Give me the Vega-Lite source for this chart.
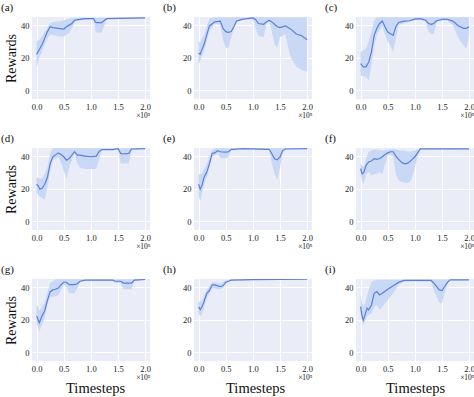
{
"$schema":"https://vega.github.io/schema/vega-lite/v6.json",
"padding":{"left":1,"top":2,"right":2,"bottom":0},
"datasets":{"runs":[
{"p":"a","t":0,"m":22,"lo":14,"hi":30},{"p":"a","t":5000,"m":25,"lo":20,"hi":31},{"p":"a","t":10000,"m":28,"lo":24,"hi":33},{"p":"a","t":15000,"m":32,"lo":28,"hi":36},{"p":"a","t":20000,"m":36,"lo":32,"hi":38.5},{"p":"a","t":25000,"m":39,"lo":34,"hi":41},{"p":"a","t":30000,"m":38.5,"lo":34,"hi":42},{"p":"a","t":40000,"m":38,"lo":33,"hi":42},{"p":"a","t":50000,"m":37.5,"lo":33,"hi":43},{"p":"a","t":55000,"m":39,"lo":34,"hi":43.5},{"p":"a","t":60000,"m":40,"lo":35,"hi":44},{"p":"a","t":65000,"m":41,"lo":38,"hi":44.3},{"p":"a","t":70000,"m":43,"lo":42,"hi":44.5},{"p":"a","t":80000,"m":43.5,"lo":43,"hi":44.5},{"p":"a","t":90000,"m":44,"lo":43.5,"hi":44.5},{"p":"a","t":105000,"m":44,"lo":43.5,"hi":44.5},{"p":"a","t":108000,"m":42,"lo":37,"hi":44.5},{"p":"a","t":110000,"m":41.5,"lo":35.5,"hi":44.5},{"p":"a","t":120000,"m":41.5,"lo":35.5,"hi":44.5},{"p":"a","t":125000,"m":43,"lo":40,"hi":44.5},{"p":"a","t":130000,"m":44,"lo":44,"hi":44.5},{"p":"a","t":150000,"m":44.2,"lo":44,"hi":44.5},{"p":"a","t":200000,"m":44.5,"lo":44.3,"hi":44.7},
{"p":"b","t":0,"m":22.7,"lo":15.6,"hi":30},{"p":"b","t":3000,"m":22,"lo":18,"hi":29},{"p":"b","t":5000,"m":24,"lo":20,"hi":31},{"p":"b","t":10000,"m":28,"lo":24,"hi":34},{"p":"b","t":15000,"m":34,"lo":30,"hi":39},{"p":"b","t":20000,"m":39.5,"lo":36.5,"hi":44},{"p":"b","t":30000,"m":42,"lo":41,"hi":44.8},{"p":"b","t":40000,"m":42.5,"lo":40,"hi":44.8},{"p":"b","t":45000,"m":38,"lo":31,"hi":44.8},{"p":"b","t":50000,"m":36,"lo":26,"hi":44.8},{"p":"b","t":55000,"m":35.5,"lo":26,"hi":44.8},{"p":"b","t":60000,"m":36,"lo":32,"hi":44.8},{"p":"b","t":65000,"m":39,"lo":38,"hi":44.8},{"p":"b","t":70000,"m":42.5,"lo":42.5,"hi":44.8},{"p":"b","t":80000,"m":43.5,"lo":43.5,"hi":44.8},{"p":"b","t":90000,"m":44,"lo":44,"hi":44.8},{"p":"b","t":100000,"m":44.4,"lo":43.5,"hi":44.8},{"p":"b","t":105000,"m":43.5,"lo":38,"hi":44.8},{"p":"b","t":110000,"m":41,"lo":33.5,"hi":44.8},{"p":"b","t":120000,"m":40.5,"lo":32.5,"hi":44.8},{"p":"b","t":125000,"m":42,"lo":40.5,"hi":44.8},{"p":"b","t":130000,"m":43,"lo":42.5,"hi":44.8},{"p":"b","t":135000,"m":42,"lo":36,"hi":44.8},{"p":"b","t":140000,"m":40.5,"lo":28,"hi":44.8},{"p":"b","t":145000,"m":39,"lo":26,"hi":44.8},{"p":"b","t":150000,"m":38.5,"lo":32.5,"hi":44.8},{"p":"b","t":160000,"m":39.5,"lo":34.5,"hi":44.8},{"p":"b","t":165000,"m":38.5,"lo":26,"hi":44.8},{"p":"b","t":170000,"m":37.5,"lo":20,"hi":44.8},{"p":"b","t":180000,"m":34.5,"lo":14.5,"hi":44.8},{"p":"b","t":190000,"m":33.5,"lo":12.5,"hi":44.8},{"p":"b","t":200000,"m":31,"lo":11.5,"hi":44.8},
{"p":"c","t":0,"m":16.3,"lo":9,"hi":23.5},{"p":"c","t":5000,"m":14.3,"lo":8.5,"hi":24.5},{"p":"c","t":10000,"m":14.3,"lo":8,"hi":25.5},{"p":"c","t":15000,"m":17.3,"lo":6,"hi":30},{"p":"c","t":20000,"m":23.5,"lo":15,"hi":35.7},{"p":"c","t":25000,"m":33.7,"lo":27.5,"hi":43},{"p":"c","t":30000,"m":38,"lo":33.7,"hi":44.8},{"p":"c","t":35000,"m":41,"lo":37,"hi":44.8},{"p":"c","t":40000,"m":42.5,"lo":40,"hi":44.8},{"p":"c","t":45000,"m":39,"lo":34,"hi":44.8},{"p":"c","t":50000,"m":35.7,"lo":30,"hi":44.8},{"p":"c","t":55000,"m":34.7,"lo":27,"hi":44.8},{"p":"c","t":60000,"m":33.7,"lo":23.5,"hi":44.8},{"p":"c","t":65000,"m":39,"lo":32,"hi":44.8},{"p":"c","t":70000,"m":41.6,"lo":40,"hi":44.8},{"p":"c","t":80000,"m":42.5,"lo":41,"hi":44.8},{"p":"c","t":90000,"m":42.7,"lo":42,"hi":44.8},{"p":"c","t":100000,"m":43.7,"lo":43,"hi":44.8},{"p":"c","t":110000,"m":44,"lo":43.5,"hi":44.8},{"p":"c","t":120000,"m":43,"lo":42,"hi":44.8},{"p":"c","t":125000,"m":41,"lo":36,"hi":44.8},{"p":"c","t":130000,"m":40.5,"lo":34.7,"hi":44.8},{"p":"c","t":135000,"m":41,"lo":34.7,"hi":44.8},{"p":"c","t":140000,"m":42.7,"lo":42,"hi":44.8},{"p":"c","t":150000,"m":43.5,"lo":43,"hi":44.8},{"p":"c","t":160000,"m":43.5,"lo":43,"hi":44.8},{"p":"c","t":170000,"m":42.5,"lo":40,"hi":44.8},{"p":"c","t":180000,"m":39.6,"lo":32,"hi":44.8},{"p":"c","t":190000,"m":38,"lo":27.5,"hi":44.8},{"p":"c","t":195000,"m":38,"lo":25.5,"hi":44.8},{"p":"c","t":200000,"m":39,"lo":33.7,"hi":44.8},
{"p":"d","t":0,"m":22.7,"lo":17.5,"hi":27},{"p":"d","t":3000,"m":21.7,"lo":16,"hi":26.5},{"p":"d","t":6000,"m":19.6,"lo":15,"hi":26},{"p":"d","t":10000,"m":20.2,"lo":14.3,"hi":26},{"p":"d","t":15000,"m":22.7,"lo":13.3,"hi":29},{"p":"d","t":20000,"m":27,"lo":20.6,"hi":33},{"p":"d","t":25000,"m":35.4,"lo":31,"hi":41.7},{"p":"d","t":30000,"m":39.6,"lo":37.5,"hi":44.8},{"p":"d","t":40000,"m":42,"lo":39.6,"hi":44.8},{"p":"d","t":45000,"m":41,"lo":36,"hi":44.8},{"p":"d","t":50000,"m":39.6,"lo":31,"hi":44.8},{"p":"d","t":55000,"m":37.5,"lo":26,"hi":44.8},{"p":"d","t":60000,"m":38.5,"lo":33,"hi":44.8},{"p":"d","t":70000,"m":42.7,"lo":41.7,"hi":44.8},{"p":"d","t":75000,"m":40.6,"lo":35.4,"hi":44.8},{"p":"d","t":80000,"m":40.6,"lo":33,"hi":44.8},{"p":"d","t":90000,"m":40,"lo":32,"hi":44.8},{"p":"d","t":100000,"m":39.6,"lo":32,"hi":44.8},{"p":"d","t":110000,"m":40,"lo":32,"hi":44.8},{"p":"d","t":115000,"m":42.7,"lo":37.5,"hi":44.8},{"p":"d","t":120000,"m":44,"lo":44,"hi":44.8},{"p":"d","t":140000,"m":44,"lo":44,"hi":44.8},{"p":"d","t":150000,"m":44.6,"lo":44.4,"hi":44.8},{"p":"d","t":155000,"m":41.7,"lo":35.4,"hi":44.8},{"p":"d","t":160000,"m":41.3,"lo":35.4,"hi":44.8},{"p":"d","t":170000,"m":41.7,"lo":35.4,"hi":44.8},{"p":"d","t":175000,"m":44.4,"lo":43.6,"hi":44.8},{"p":"d","t":200000,"m":44.6,"lo":44.4,"hi":44.8},
{"p":"e","t":0,"m":22.7,"lo":15.4,"hi":29},{"p":"e","t":3000,"m":19.6,"lo":12.2,"hi":29},{"p":"e","t":6000,"m":21.7,"lo":16.4,"hi":29},{"p":"e","t":10000,"m":27,"lo":22.7,"hi":32},{"p":"e","t":15000,"m":30,"lo":27,"hi":35},{"p":"e","t":20000,"m":35.4,"lo":33,"hi":39.6},{"p":"e","t":25000,"m":41.7,"lo":39.6,"hi":43.6},{"p":"e","t":30000,"m":42,"lo":40.5,"hi":44.8},{"p":"e","t":35000,"m":43.4,"lo":41.7,"hi":44.8},{"p":"e","t":40000,"m":42.7,"lo":39,"hi":44.8},{"p":"e","t":50000,"m":42.5,"lo":38.5,"hi":44.8},{"p":"e","t":55000,"m":42.7,"lo":39.6,"hi":44.8},{"p":"e","t":60000,"m":44,"lo":44,"hi":44.8},{"p":"e","t":80000,"m":44.6,"lo":44.3,"hi":44.8},{"p":"e","t":130000,"m":44.2,"lo":44,"hi":44.8},{"p":"e","t":135000,"m":41.5,"lo":35.4,"hi":44.8},{"p":"e","t":140000,"m":38.3,"lo":29,"hi":44.8},{"p":"e","t":145000,"m":37.7,"lo":25.3,"hi":44.8},{"p":"e","t":150000,"m":39.5,"lo":33,"hi":44.8},{"p":"e","t":155000,"m":43.4,"lo":41.7,"hi":44.8},{"p":"e","t":160000,"m":44.4,"lo":44.2,"hi":44.8},{"p":"e","t":200000,"m":44.6,"lo":44.4,"hi":44.8},
{"p":"f","t":0,"m":32.2,"lo":29,"hi":35.4},{"p":"f","t":3000,"m":29,"lo":24,"hi":34},{"p":"f","t":6000,"m":30,"lo":23,"hi":33.5},{"p":"f","t":10000,"m":34.3,"lo":29,"hi":38.5},{"p":"f","t":15000,"m":36.4,"lo":30,"hi":42.7},{"p":"f","t":20000,"m":37,"lo":28,"hi":43.6},{"p":"f","t":25000,"m":38.5,"lo":29,"hi":44},{"p":"f","t":30000,"m":38,"lo":29,"hi":44},{"p":"f","t":35000,"m":38.5,"lo":30,"hi":43.8},{"p":"f","t":40000,"m":39.6,"lo":29,"hi":43.4},{"p":"f","t":45000,"m":41,"lo":35,"hi":43.8},{"p":"f","t":50000,"m":42,"lo":40.6,"hi":44},{"p":"f","t":55000,"m":42.7,"lo":41,"hi":44.2},{"p":"f","t":60000,"m":42.7,"lo":39.6,"hi":44.4},{"p":"f","t":65000,"m":40,"lo":29,"hi":44},{"p":"f","t":70000,"m":38,"lo":25.3,"hi":43.6},{"p":"f","t":75000,"m":36.4,"lo":24,"hi":43.5},{"p":"f","t":80000,"m":35.4,"lo":23.8,"hi":43.4},{"p":"f","t":85000,"m":35.4,"lo":23.5,"hi":43},{"p":"f","t":90000,"m":36.4,"lo":23.8,"hi":42.7},{"p":"f","t":95000,"m":38,"lo":27,"hi":43},{"p":"f","t":100000,"m":39.6,"lo":33,"hi":43.6},{"p":"f","t":105000,"m":42,"lo":39.6,"hi":44},{"p":"f","t":110000,"m":44.4,"lo":44,"hi":44.6},{"p":"f","t":200000,"m":44.4,"lo":44.2,"hi":44.6},
{"p":"g","t":0,"m":22.3,"lo":18,"hi":29.8},{"p":"g","t":5000,"m":18,"lo":12.8,"hi":25.5},{"p":"g","t":10000,"m":22.3,"lo":17,"hi":27.7},{"p":"g","t":15000,"m":25.5,"lo":21.3,"hi":31},{"p":"g","t":20000,"m":31.9,"lo":29.8,"hi":36.2},{"p":"g","t":25000,"m":37.2,"lo":34,"hi":42.5},{"p":"g","t":30000,"m":38.3,"lo":34,"hi":43.6},{"p":"g","t":35000,"m":38.7,"lo":34.5,"hi":44.8},{"p":"g","t":40000,"m":39.4,"lo":35,"hi":44.8},{"p":"g","t":45000,"m":41.5,"lo":38.3,"hi":44.8},{"p":"g","t":50000,"m":43,"lo":41.5,"hi":44.8},{"p":"g","t":55000,"m":43,"lo":40.4,"hi":44.8},{"p":"g","t":60000,"m":41.5,"lo":36.2,"hi":44.8},{"p":"g","t":70000,"m":41.5,"lo":36.2,"hi":44.8},{"p":"g","t":75000,"m":42.1,"lo":39.4,"hi":44.8},{"p":"g","t":80000,"m":43.6,"lo":43.6,"hi":44.8},{"p":"g","t":90000,"m":44.3,"lo":44,"hi":44.8},{"p":"g","t":140000,"m":44.3,"lo":44,"hi":44.8},{"p":"g","t":145000,"m":43.6,"lo":42.5,"hi":44.8},{"p":"g","t":155000,"m":43.6,"lo":42.5,"hi":44.8},{"p":"g","t":160000,"m":42.5,"lo":38.7,"hi":44.8},{"p":"g","t":175000,"m":42.5,"lo":38.7,"hi":44.8},{"p":"g","t":180000,"m":44.3,"lo":43.6,"hi":44.8},{"p":"g","t":200000,"m":44.7,"lo":44.5,"hi":44.8},
{"p":"h","t":0,"m":27.8,"lo":23.6,"hi":31},{"p":"h","t":3000,"m":26.2,"lo":22,"hi":31},{"p":"h","t":6000,"m":27.8,"lo":23,"hi":32},{"p":"h","t":10000,"m":31,"lo":27,"hi":34},{"p":"h","t":15000,"m":36.2,"lo":33,"hi":38.3},{"p":"h","t":20000,"m":37.9,"lo":36.2,"hi":40.4},{"p":"h","t":25000,"m":41.4,"lo":39.3,"hi":43},{"p":"h","t":30000,"m":41.4,"lo":39.3,"hi":43},{"p":"h","t":35000,"m":40.8,"lo":38.7,"hi":42.5},{"p":"h","t":40000,"m":40.4,"lo":38.7,"hi":42},{"p":"h","t":45000,"m":40.8,"lo":39.3,"hi":43},{"p":"h","t":50000,"m":43,"lo":42,"hi":44.3},{"p":"h","t":55000,"m":43.6,"lo":43.3,"hi":44.5},{"p":"h","t":60000,"m":44.3,"lo":44,"hi":44.6},{"p":"h","t":100000,"m":44.6,"lo":44.4,"hi":44.8},{"p":"h","t":200000,"m":44.9,"lo":44.7,"hi":45},
{"p":"i","t":0,"m":28,"lo":23.8,"hi":34.2},{"p":"i","t":3000,"m":21.7,"lo":18,"hi":30},{"p":"i","t":5000,"m":19.7,"lo":16.6,"hi":28},{"p":"i","t":8000,"m":22.8,"lo":19,"hi":30},{"p":"i","t":10000,"m":24.8,"lo":20.7,"hi":32},{"p":"i","t":12000,"m":27,"lo":22,"hi":35},{"p":"i","t":15000,"m":26,"lo":22.8,"hi":38.3},{"p":"i","t":20000,"m":29,"lo":23.8,"hi":43},{"p":"i","t":25000,"m":36.2,"lo":27.9,"hi":44},{"p":"i","t":30000,"m":37.3,"lo":29,"hi":44.5},{"p":"i","t":35000,"m":35.2,"lo":25.9,"hi":44.5},{"p":"i","t":40000,"m":36.2,"lo":27.9,"hi":44.5},{"p":"i","t":50000,"m":38.7,"lo":32,"hi":44.5},{"p":"i","t":60000,"m":40.8,"lo":36.2,"hi":44.5},{"p":"i","t":70000,"m":42.9,"lo":41.4,"hi":44.6},{"p":"i","t":80000,"m":44.1,"lo":43.5,"hi":44.7},{"p":"i","t":130000,"m":44.1,"lo":43.5,"hi":44.7},{"p":"i","t":135000,"m":42.5,"lo":38,"hi":44.7},{"p":"i","t":140000,"m":40.4,"lo":34.2,"hi":44.7},{"p":"i","t":145000,"m":38.3,"lo":30.4,"hi":44.7},{"p":"i","t":150000,"m":37.9,"lo":30,"hi":44.7},{"p":"i","t":155000,"m":40.4,"lo":36.2,"hi":44.7},{"p":"i","t":160000,"m":42.9,"lo":41.8,"hi":44.7},{"p":"i","t":165000,"m":44.5,"lo":44.1,"hi":44.8},{"p":"i","t":200000,"m":44.5,"lo":44.3,"hi":44.8}
]},
"vconcat":[
{"hconcat":[
{"width":118,"height":82,"title":"(a)","data":{"name":"runs"},"transform":[{"filter":"datum.p==='a'"}],
 "encoding":{"x":{"field":"t","type":"quantitative","scale":{"domain":[-8500,209000],"nice":false,"zero":false},"axis":{"values":[0,50000,100000,150000,200000],"labelExpr":"format(datum.value/100000,'.1f')","title":"×10⁵","titleFontSize":7.5,"titleAnchor":"end","titlePadding":1,"labelPadding":3,"labelFlush":false,"labelOverlap":false}}},
 "layer":[
  {"mark":{"type":"area","color":"#C9D8F5","clip":true},"encoding":{"y":{"field":"lo","type":"quantitative","scale":{"domain":[-5.5,45],"nice":false,"zero":false},"axis":{"values":[0,20,40],"title":"Rewards","titleFontSize":14,"titlePadding":2,"labelPadding":3}},"y2":{"field":"hi"}}},
  {"mark":{"type":"line","color":"#5A80D8","strokeWidth":1.2,"clip":true},"encoding":{"y":{"field":"m","type":"quantitative"}}}
 ]},
{"width":118,"height":82,"title":"(b)","data":{"name":"runs"},"transform":[{"filter":"datum.p==='b'"}],
 "encoding":{"x":{"field":"t","type":"quantitative","scale":{"domain":[-8500,209000],"nice":false,"zero":false},"axis":{"values":[0,50000,100000,150000,200000],"labelExpr":"format(datum.value/100000,'.1f')","title":"×10⁵","titleFontSize":7.5,"titleAnchor":"end","titlePadding":1,"labelPadding":3,"labelFlush":false,"labelOverlap":false}}},
 "layer":[
  {"mark":{"type":"area","color":"#C9D8F5","clip":true},"encoding":{"y":{"field":"lo","type":"quantitative","scale":{"domain":[-5.5,45],"nice":false,"zero":false},"axis":{"values":[0,20,40],"title":null,"labelPadding":3}},"y2":{"field":"hi"}}},
  {"mark":{"type":"line","color":"#5A80D8","strokeWidth":1.2,"clip":true},"encoding":{"y":{"field":"m","type":"quantitative"}}}
 ]},
{"width":118,"height":82,"title":"(c)","data":{"name":"runs"},"transform":[{"filter":"datum.p==='c'"}],
 "encoding":{"x":{"field":"t","type":"quantitative","scale":{"domain":[-8500,209000],"nice":false,"zero":false},"axis":{"values":[0,50000,100000,150000,200000],"labelExpr":"format(datum.value/100000,'.1f')","title":"×10⁵","titleFontSize":7.5,"titleAnchor":"end","titlePadding":1,"labelPadding":3,"labelFlush":false,"labelOverlap":false}}},
 "layer":[
  {"mark":{"type":"area","color":"#C9D8F5","clip":true},"encoding":{"y":{"field":"lo","type":"quantitative","scale":{"domain":[-5.5,45],"nice":false,"zero":false},"axis":{"values":[0,20,40],"title":null,"labelPadding":3}},"y2":{"field":"hi"}}},
  {"mark":{"type":"line","color":"#5A80D8","strokeWidth":1.2,"clip":true},"encoding":{"y":{"field":"m","type":"quantitative"}}}
 ]}
],"spacing":12},
{"hconcat":[
{"width":118,"height":82,"title":"(d)","data":{"name":"runs"},"transform":[{"filter":"datum.p==='d'"}],
 "encoding":{"x":{"field":"t","type":"quantitative","scale":{"domain":[-8500,209000],"nice":false,"zero":false},"axis":{"values":[0,50000,100000,150000,200000],"labelExpr":"format(datum.value/100000,'.1f')","title":"×10⁵","titleFontSize":7.5,"titleAnchor":"end","titlePadding":1,"labelPadding":3,"labelFlush":false,"labelOverlap":false}}},
 "layer":[
  {"mark":{"type":"area","color":"#C9D8F5","clip":true},"encoding":{"y":{"field":"lo","type":"quantitative","scale":{"domain":[-5.5,45],"nice":false,"zero":false},"axis":{"values":[0,20,40],"title":"Rewards","titleFontSize":14,"titlePadding":2,"labelPadding":3}},"y2":{"field":"hi"}}},
  {"mark":{"type":"line","color":"#5A80D8","strokeWidth":1.2,"clip":true},"encoding":{"y":{"field":"m","type":"quantitative"}}}
 ]},
{"width":118,"height":82,"title":"(e)","data":{"name":"runs"},"transform":[{"filter":"datum.p==='e'"}],
 "encoding":{"x":{"field":"t","type":"quantitative","scale":{"domain":[-8500,209000],"nice":false,"zero":false},"axis":{"values":[0,50000,100000,150000,200000],"labelExpr":"format(datum.value/100000,'.1f')","title":"×10⁵","titleFontSize":7.5,"titleAnchor":"end","titlePadding":1,"labelPadding":3,"labelFlush":false,"labelOverlap":false}}},
 "layer":[
  {"mark":{"type":"area","color":"#C9D8F5","clip":true},"encoding":{"y":{"field":"lo","type":"quantitative","scale":{"domain":[-5.5,45],"nice":false,"zero":false},"axis":{"values":[0,20,40],"title":null,"labelPadding":3}},"y2":{"field":"hi"}}},
  {"mark":{"type":"line","color":"#5A80D8","strokeWidth":1.2,"clip":true},"encoding":{"y":{"field":"m","type":"quantitative"}}}
 ]},
{"width":118,"height":82,"title":"(f)","data":{"name":"runs"},"transform":[{"filter":"datum.p==='f'"}],
 "encoding":{"x":{"field":"t","type":"quantitative","scale":{"domain":[-8500,209000],"nice":false,"zero":false},"axis":{"values":[0,50000,100000,150000,200000],"labelExpr":"format(datum.value/100000,'.1f')","title":"×10⁵","titleFontSize":7.5,"titleAnchor":"end","titlePadding":1,"labelPadding":3,"labelFlush":false,"labelOverlap":false}}},
 "layer":[
  {"mark":{"type":"area","color":"#C9D8F5","clip":true},"encoding":{"y":{"field":"lo","type":"quantitative","scale":{"domain":[-5.5,45],"nice":false,"zero":false},"axis":{"values":[0,20,40],"title":null,"labelPadding":3}},"y2":{"field":"hi"}}},
  {"mark":{"type":"line","color":"#5A80D8","strokeWidth":1.2,"clip":true},"encoding":{"y":{"field":"m","type":"quantitative"}}}
 ]}
],"spacing":12},
{"hconcat":[
{"vconcat":[
{"width":118,"height":82,"title":"(g)","data":{"name":"runs"},"transform":[{"filter":"datum.p==='g'"}],
 "encoding":{"x":{"field":"t","type":"quantitative","scale":{"domain":[-8500,209000],"nice":false,"zero":false},"axis":{"values":[0,50000,100000,150000,200000],"labelExpr":"format(datum.value/100000,'.1f')","title":"×10⁵","titleFontSize":7.5,"titleAnchor":"end","titlePadding":1,"labelPadding":3,"labelFlush":false,"labelOverlap":false}}},
 "layer":[
  {"mark":{"type":"area","color":"#C9D8F5","clip":true},"encoding":{"y":{"field":"lo","type":"quantitative","scale":{"domain":[-5.5,45],"nice":false,"zero":false},"axis":{"values":[0,20,40],"title":"Rewards","titleFontSize":14,"titlePadding":2,"labelPadding":3}},"y2":{"field":"hi"}}},
  {"mark":{"type":"line","color":"#5A80D8","strokeWidth":1.2,"clip":true},"encoding":{"y":{"field":"m","type":"quantitative"}}}
 ]}],
 "title":{"text":"Timesteps","orient":"bottom","anchor":"start","dx":34,"fontSize":14.5,"baseline":"top","offset":1}},
{"vconcat":[
{"width":118,"height":82,"title":"(h)","data":{"name":"runs"},"transform":[{"filter":"datum.p==='h'"}],
 "encoding":{"x":{"field":"t","type":"quantitative","scale":{"domain":[-8500,209000],"nice":false,"zero":false},"axis":{"values":[0,50000,100000,150000,200000],"labelExpr":"format(datum.value/100000,'.1f')","title":"×10⁵","titleFontSize":7.5,"titleAnchor":"end","titlePadding":1,"labelPadding":3,"labelFlush":false,"labelOverlap":false}}},
 "layer":[
  {"mark":{"type":"area","color":"#C9D8F5","clip":true},"encoding":{"y":{"field":"lo","type":"quantitative","scale":{"domain":[-5.5,45],"nice":false,"zero":false},"axis":{"values":[0,20,40],"title":null,"labelPadding":3}},"y2":{"field":"hi"}}},
  {"mark":{"type":"line","color":"#5A80D8","strokeWidth":1.2,"clip":true},"encoding":{"y":{"field":"m","type":"quantitative"}}}
 ]}],
 "title":{"text":"Timesteps","orient":"bottom","anchor":"start","dx":32,"fontSize":14.5,"baseline":"top","offset":1}},
{"vconcat":[
{"width":118,"height":82,"title":"(i)","data":{"name":"runs"},"transform":[{"filter":"datum.p==='i'"}],
 "encoding":{"x":{"field":"t","type":"quantitative","scale":{"domain":[-8500,209000],"nice":false,"zero":false},"axis":{"values":[0,50000,100000,150000,200000],"labelExpr":"format(datum.value/100000,'.1f')","title":"×10⁵","titleFontSize":7.5,"titleAnchor":"end","titlePadding":1,"labelPadding":3,"labelFlush":false,"labelOverlap":false}}},
 "layer":[
  {"mark":{"type":"area","color":"#C9D8F5","clip":true},"encoding":{"y":{"field":"lo","type":"quantitative","scale":{"domain":[-5.5,45],"nice":false,"zero":false},"axis":{"values":[0,20,40],"title":null,"labelPadding":3}},"y2":{"field":"hi"}}},
  {"mark":{"type":"line","color":"#5A80D8","strokeWidth":1.2,"clip":true},"encoding":{"y":{"field":"m","type":"quantitative"}}}
 ]}],
 "title":{"text":"Timesteps","orient":"bottom","anchor":"start","dx":30,"fontSize":14.5,"baseline":"top","offset":1}}
],"spacing":12}
],
"spacing":14,
"config":{
 "font":"Liberation Serif",
 "background":"white",
 "view":{"fill":"#EAECF7","stroke":null},
 "axis":{"domain":false,"ticks":false,"grid":true,"gridColor":"white","gridWidth":1,"labelFont":"Liberation Serif","labelFontSize":8.5,"labelColor":"#222","titleFont":"Liberation Serif","titleFontWeight":"normal","titleColor":"#111"},
 "title":{"font":"Liberation Serif","fontSize":11,"fontWeight":"normal","anchor":"start","frame":"group","dx":-31,"offset":4,"baseline":"alphabetic","color":"#111"}
}
}
